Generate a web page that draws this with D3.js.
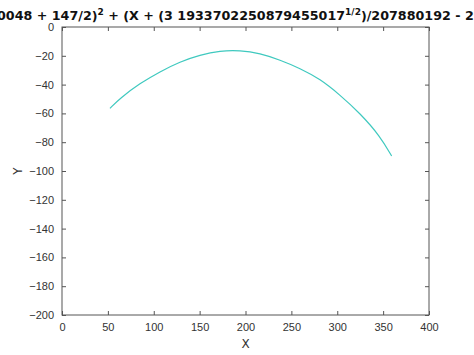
<!DOCTYPE html>
<html>
<head>
<meta charset="utf-8">
<script src="https://cdn.jsdelivr.net/npm/d3@7"></script>
<style>
  body { margin: 0; background: #fff; }
  svg { display: block; font-family: "DejaVu Sans", sans-serif; }
  .tick text { fill: #333; font-size: 11px; }
</style>
</head>
<body>
<svg width="474" height="355"></svg>
<script>
// DATA
var xs = [52.3, 63.2, 85.0, 106.8, 128.6, 150.4, 172.2, 194.0, 215.8, 237.6, 259.4, 281.2, 303.0, 324.8, 346.6, 359.3];
var ys = [-56.5, -49.5, -39.1, -31.0, -24.1, -19.4, -16.5, -16.2, -18.3, -22.9, -28.7, -36.1, -47.2, -59.9, -75.7, -89.6];
var xTicks = [0, 50, 100, 150, 200, 250, 300, 350, 400];
var yTicks = [0, -20, -40, -60, -80, -100, -120, -140, -160, -180, -200];

var svg = d3.select("svg");
var mLeft = 62, mRight = 429, mTop = 27, mBottom = 315;

var x = d3.scaleLinear().domain([0, 400]).range([mLeft, mRight]);
var y = d3.scaleLinear().domain([-200, 0]).range([mBottom, mTop]);

var axisColor = "#555";

// frame
svg.append("rect")
.attr("x", mLeft).attr("y", mTop)
.attr("width", mRight - mLeft).attr("height", mBottom - mTop)
.attr("fill", "none").attr("stroke", axisColor).attr("stroke-width", 1);

// axes, ticks point inward
var gx = svg.append("g").attr("transform", "translate(0," + mBottom + ")")
.call(d3.axisBottom(x).tickValues(xTicks).tickSizeInner(-4).tickSizeOuter(0).tickPadding(8));
var gxTop = svg.append("g").attr("transform", "translate(0," + mTop + ")")
.call(d3.axisTop(x).tickValues(xTicks).tickSizeInner(-4).tickSizeOuter(0).tickFormat(""));
var gy = svg.append("g").attr("transform", "translate(" + mLeft + ",0)")
.call(d3.axisLeft(y).tickValues(yTicks).tickSizeInner(-4).tickSizeOuter(0).tickPadding(8));
var gyRight = svg.append("g").attr("transform", "translate(" + mRight + ",0)")
.call(d3.axisRight(y).tickValues(yTicks).tickSizeInner(-4).tickSizeOuter(0).tickFormat(""));

[gx, gxTop, gy, gyRight].forEach(function(g) {
	g.select(".domain").remove();
	g.selectAll(".tick line").attr("stroke", axisColor);
});

// curve
var pts = xs.map(function(d, i) { return [d, ys[i]]; });
svg.append("path")
.datum(pts)
.attr("fill", "none")
.attr("stroke", "#3fc9bf")
.attr("stroke-width", 1.2)
.attr("d", d3.line().x(function(d){ return x(d[0]); }).y(function(d){ return y(d[1]); }).curve(d3.curveBasis));

// axis labels
svg.append("text")
.attr("x", (mLeft + mRight) / 2).attr("y", 348)
.attr("text-anchor", "middle").attr("font-size", 12).attr("fill", "#333")
.text("X");
svg.append("text")
.attr("transform", "translate(22," + ((mTop + mBottom) / 2) + ") rotate(-90)")
.attr("text-anchor", "middle").attr("font-size", 12).attr("fill", "#333")
.text("Y");

// title (clipped on both sides in the original)
var title = svg.append("text")
.attr("x", -3).attr("y", 20)
.attr("font-size", 12.7).attr("font-weight", "bold").attr("fill", "#111");
title.append("tspan").text("0048 + 147/2)");
title.append("tspan").attr("font-size", 9).attr("dy", -5).text("2");
title.append("tspan").attr("dy", 5).text(" + (X + (3 1933702250879455017");
title.append("tspan").attr("font-size", 9).attr("dy", -5).text("1/2");
title.append("tspan").attr("dy", 5).text(")/207880192 - 2");
</script>
</body>
</html>
